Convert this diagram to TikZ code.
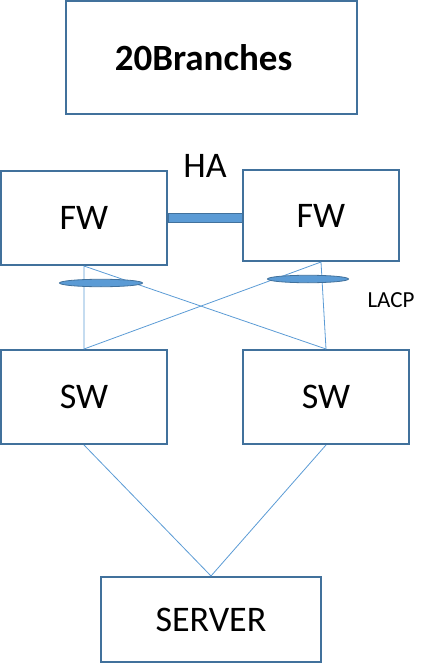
\documentclass[tikz,border=0pt]{standalone}
\usepackage{fontspec}
\setmainfont{Carlito}
\usepackage{tikz}
\usetikzlibrary{shapes.geometric}
\definecolor{boxblue}{HTML}{41719C}
\definecolor{linkblue}{HTML}{5B9BD5}

\begin{document}
\begin{tikzpicture}[x=1pt,y=-1pt,
        box/.style={draw=boxblue,line width=2pt,rectangle,inner sep=0pt,font=\fontsize{36}{40}\selectfont},
        link/.style={draw=linkblue,line width=0.8pt},
        lag/.style={ellipse,draw=boxblue,fill=linkblue,line width=0.8pt,inner sep=0pt,minimum height=7.5pt}]
            \useasboundingbox (0,0) rectangle (433,666);
            \node[box,minimum width=291pt,minimum height=113pt,font=\fontsize{37}{40}\selectfont\bfseries] (br) at (211.5,57.5) {20Branches\hspace*{16pt}};
            \node[box,minimum width=166pt,minimum height=94pt] (fwA) at (84,218) {FW};
            \node[box,minimum width=156pt,minimum height=91pt] (fwB) at (321,215.5) {FW};
            \node[box,minimum width=166pt,minimum height=94pt] (swA) at (84,397) {SW};
            \node[box,minimum width=166pt,minimum height=94pt] (swB) at (326,397) {SW};
            \node[box,minimum width=220pt,minimum height=85pt] (srv) at (211,619.5) {SERVER};
            \node[font=\fontsize{36}{40}\selectfont] (ha) at (205,166) {HA};
            \node[font=\fontsize{23}{26}\selectfont] (lacp) at (391,300) {LACP};
            \draw[draw=boxblue,fill=linkblue,line width=0.8pt] ([yshift=4.5pt]fwA.east) rectangle ([yshift=-4.5pt]fwA.east -| fwB.west);
            \draw[link] (fwA.south) -- (swA.north) (fwA.south) -- (swB.north);
            \draw[link] (fwB.south) -- (swA.north) (fwB.south) -- (swB.north);
            \draw[link] (swA.south) -- (srv.north) -- (swB.south);
            \node[lag,minimum width=83pt] (lagA) at (101,283) {};
            \node[lag,minimum width=81pt] (lagB) at (308,279) {};
        \end{tikzpicture}
\end{document}
